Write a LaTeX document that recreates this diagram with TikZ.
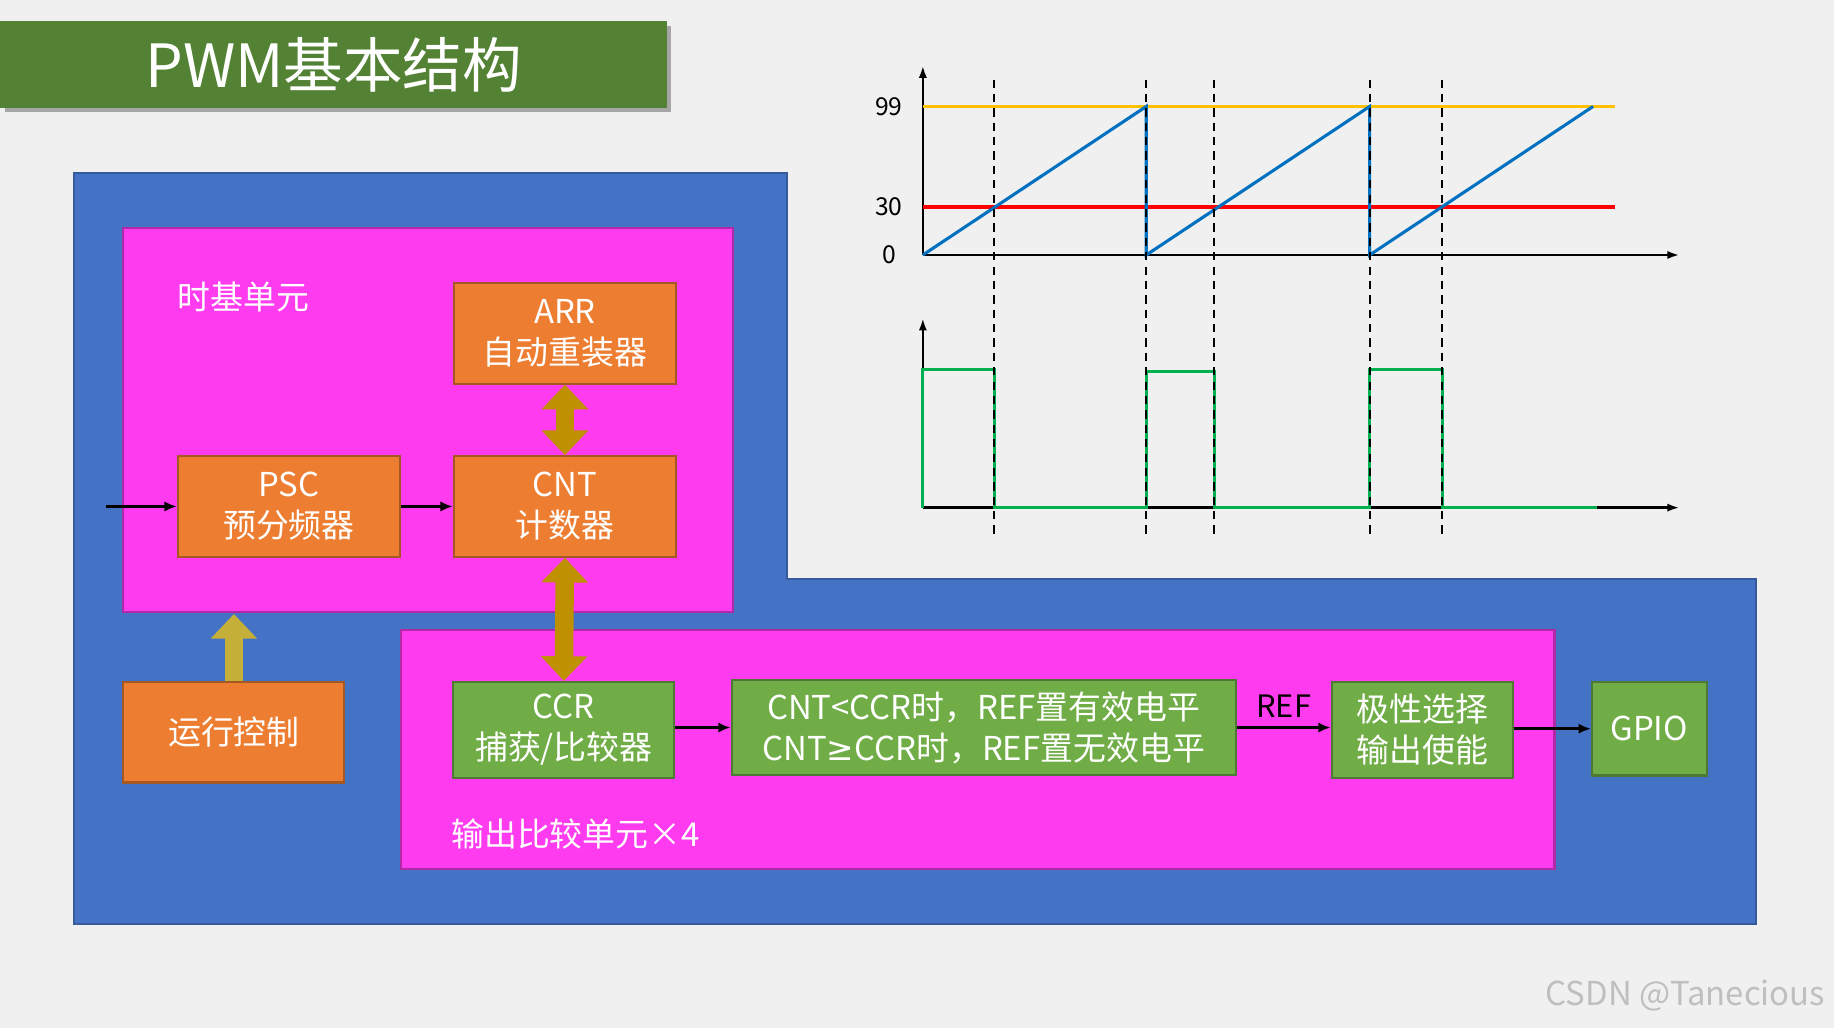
\documentclass[tikz,border=0pt]{standalone}
\usepackage{fontspec}
\setmainfont{Noto Sans CJK SC}
\usetikzlibrary{arrows.meta,shadows}
\definecolor{bg}{RGB}{240,240,240}
\definecolor{tgreen}{RGB}{84,130,53}
\definecolor{blu}{RGB}{68,114,196}
\definecolor{mag}{RGB}{255,59,240}
\definecolor{org}{RGB}{237,125,49}
\definecolor{grn}{RGB}{112,173,71}
\definecolor{gold}{RGB}{191,144,0}
\definecolor{ylw}{RGB}{196,176,56}
\definecolor{saw}{RGB}{0,112,192}
\definecolor{pwm}{RGB}{0,176,80}
\definecolor{yl}{RGB}{255,192,0}
\tikzset{
 blk/.style={draw=#1!70!black,line width=1pt,fill=#1,text=white,font=\fontsize{16}{20}\selectfont,align=center,inner sep=0pt},
 arr/.style={-{Latex[length=6pt,width=5pt]},line width=1.3pt},
 dbl/.style={{Triangle[length=12pt,width=22pt]}-{Triangle[length=12pt,width=22pt]},line width=9pt,draw=gold},
 wt/.style={text=white,font=\fontsize{16}{19}\selectfont},
 ax/.style={-{Latex[length=6pt,width=4pt]},line width=1.2pt},
 dsh/.style={dashed,line width=1.1pt,dash pattern=on 4pt off 3pt},
}
\begin{document}
\begin{tikzpicture}[x=0.02cm,y=-0.02cm]
\fill[bg] (0,0) rectangle (1568,879);
\useasboundingbox (0,0) rectangle (1568,879);
% title
\fill[black!35] (4,22) rectangle (574,96);
\node[fill=tgreen,minimum width=570*0.02cm,minimum height=74*0.02cm,inner sep=0pt,anchor=north west,text=white,font=\fontsize{29}{32}\selectfont] (title) at (0,18) {PWM基本结构};
% blue area
\filldraw[fill=blu,draw=blu!80!black,line width=1pt] (63,148) -- (673,148) -- (673,495) -- (1501,495) -- (1501,790) -- (63,790) -- cycle;
\filldraw[fill=mag,draw=mag!70!black,line width=1pt] (105,195) rectangle (627,523);
\filldraw[fill=mag,draw=mag!70!black,line width=1pt] (343,539) rectangle (1329,743);
\node[wt] (tb) at (208,254) {时基单元};
\node[wt] (oc) at (492,713) {输出比较单元×4};
% blocks
\node[blk=org,minimum width=190*0.02cm,minimum height=86*0.02cm] (arr) at (483,285) {ARR\\自动重装器};
\node[blk=org,minimum width=190*0.02cm,minimum height=86*0.02cm] (psc) at (247,433) {PSC\\预分频器};
\node[blk=org,minimum width=190*0.02cm,minimum height=86*0.02cm] (cnt) at (483,433) {CNT\\计数器};
\node[blk=org,minimum width=189*0.02cm,minimum height=86*0.02cm] (run) at (200,626) {运行控制};
\node[blk=grn,minimum width=189*0.02cm,minimum height=82*0.02cm] (ccr) at (482,624) {CCR\\捕获/比较器};
\node[blk=grn,minimum width=431*0.02cm,minimum height=81*0.02cm] (cmp) at (841,622) {CNT<CCR时，REF置有效电平\\CNT{\fontspec{DejaVu Sans}≥}CCR时，REF置无效电平};
\node[blk=grn,minimum width=155*0.02cm,minimum height=82*0.02cm] (pol) at (1216,624) {极性选择\\输出使能};
\node[blk=grn,minimum width=98*0.02cm,minimum height=80*0.02cm] (gpio) at (1410,623) {GPIO};
% arrows
\coordinate (in) at (91,433);
\draw[arr] (in) -- (psc.west);
\draw[arr] (psc) -- (cnt);
\draw[arr] (ccr.east|-cmp) -- (cmp.west);
\draw[arr] (cmp.east) -- node[above,font=\fontsize{15}{17}\selectfont,yshift=1pt] (ref) {REF} (pol.west|-cmp);
\draw[arr] (pol.east|-gpio) -- (gpio.west);
\draw[dbl] (arr.south) -- (cnt.north);
\draw[dbl] (cnt.south) -- (ccr.north);
\draw[-{Triangle[length=12pt,width=22pt]},line width=9pt,draw=ylw] (run.north) -- (200,525);
% plot
\coordinate (o1) at (789,218);
\draw[ax] (o1) -- (789,56);
\draw[ax] (o1) -- (1436,218);
\node[font=\fontsize{12}{14}\selectfont] (l99) at (760,91) {99};
\node[font=\fontsize{12}{14}\selectfont] (l30) at (760,177) {30};
\node[font=\fontsize{12}{14}\selectfont] (l0) at (760,218) {0};
\draw[yl,line width=1.5pt] (789,91) -- (1381,91);
\draw[red,line width=1.5pt] (789,177) -- (1381,177);
\draw[saw,line width=1.5pt] (789,218) -- (980,91) -- (980,218) -- (1171,91) -- (1171,218) -- (1362,91);
\coordinate (o2) at (789,434);
\draw[ax] (o2) -- (789,272);
\draw[ax] (o2) -- (1436,434);
\draw[pwm,line width=1.5pt] (789,434) -- (789,316) -- (850,316) -- (850,434) -- (980,434) -- (980,318) -- (1038,318) -- (1038,434) -- (1171,434) -- (1171,316) -- (1233,316) -- (1233,434) -- (1365,434);
\foreach \x in {850,980,1038,1171,1233} \draw[dsh] (\x,68) -- (\x,457);
\node[text=black!25,font=\fontsize{16}{18}\selectfont] (wm) at (1441,851) {CSDN @Tanecious};
\end{tikzpicture}
\end{document}
